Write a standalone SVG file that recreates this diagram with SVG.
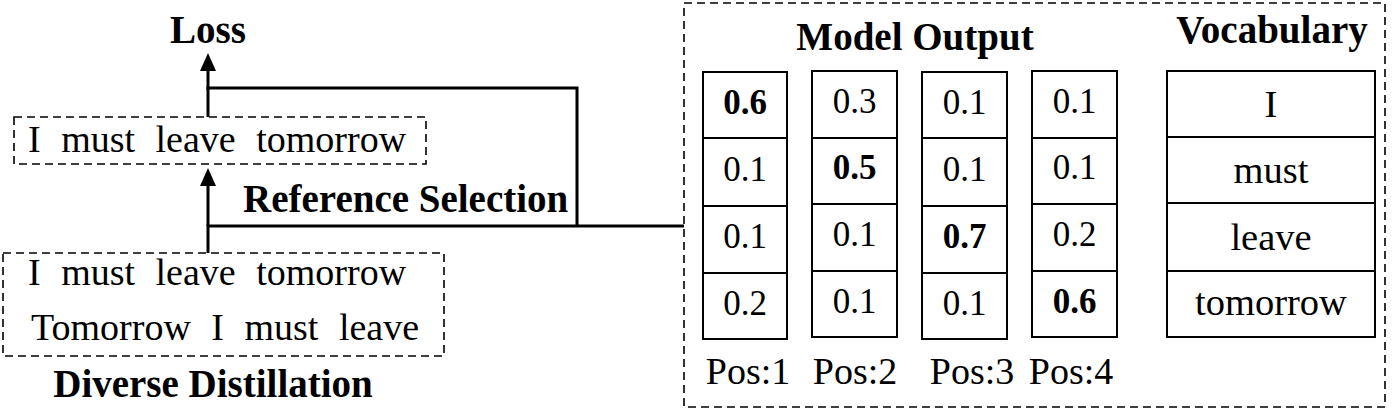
<svg xmlns="http://www.w3.org/2000/svg" width="1395" height="412" viewBox="0 0 1395 412">
<defs>
<style>
text{font-family:"Liberation Serif","Times New Roman",serif;fill:#000}
.b{font-weight:bold;font-size:39px}
.r{font-size:38px}
.ws{word-spacing:11px}
.n{font-size:35px;text-anchor:middle}
.nb{font-size:35px;font-weight:bold;text-anchor:middle}
.p{font-size:38px;text-anchor:middle}
.v{font-size:38.5px;text-anchor:middle}
.dash{fill:none;stroke:#000;stroke-width:1.6;stroke-dasharray:8 5}
.cell{fill:#fff;stroke:#000;stroke-width:2}
.con{fill:none;stroke:#000;stroke-width:3}
.head{fill:#000}
</style>
</defs>

<g id="connectors">
<path class="con" d="M208,253 V226 H684"/>
<path class="con" d="M208,117 V88 H577 V226"/>
<path class="con" d="M208,90 V60"/>
<polygon class="head" points="208,53 200,71 216,71"/>
<path class="con" d="M208,226 V175"/>
<polygon class="head" points="208,168 200,186 216,186"/>
</g>

<g id="loss">
<text class="b" x="208" y="43" text-anchor="middle">Loss</text>
</g>

<g id="selected">
<rect class="dash" x="14" y="117" width="412" height="47"/>
<text class="r ws" x="28" y="152">I must leave tomorrow</text>
</g>

<g id="reference-selection">
<text class="b" x="243" y="212">Reference Selection</text>
</g>

<g id="diverse-distillation">
<rect class="dash" x="3" y="253" width="441" height="103"/>
<text class="r ws" x="28" y="285">I must leave tomorrow</text>
<text class="r ws" x="31" y="340">Tomorrow I must leave</text>
<text class="b" x="213" y="397" text-anchor="middle">Diverse Distillation</text>
</g>

<g id="model-panel">
<rect class="dash" x="684" y="3" width="701" height="404"/>
<text class="b" x="915" y="50" text-anchor="middle">Model Output</text>
<text class="b" x="1272" y="43" text-anchor="middle">Vocabulary</text>
</g>

<g id="pos1">
<rect class="cell" x="703" y="72" width="84" height="267"/>
<path class="cell" d="M703,138 H787 M703,206 H787 M703,273 H787"/>
<text class="nb" x="745" y="114">0.6</text>
<text class="n" x="745" y="181">0.1</text>
<text class="n" x="745" y="248">0.1</text>
<text class="n" x="745" y="315">0.2</text>
<text class="p" x="748" y="384">Pos:1</text>
</g>

<g id="pos2">
<rect class="cell" x="812" y="71" width="85" height="266"/>
<path class="cell" d="M812,138 H897 M812,204 H897 M812,271 H897"/>
<text class="n" x="854.5" y="113">0.3</text>
<text class="nb" x="854.5" y="179">0.5</text>
<text class="n" x="854.5" y="246">0.1</text>
<text class="n" x="854.5" y="313">0.1</text>
<text class="p" x="855" y="384">Pos:2</text>
</g>

<g id="pos3">
<rect class="cell" x="922" y="72" width="85" height="267"/>
<path class="cell" d="M922,138 H1007 M922,206 H1007 M922,273 H1007"/>
<text class="n" x="964.5" y="114">0.1</text>
<text class="n" x="964.5" y="181">0.1</text>
<text class="nb" x="964.5" y="248">0.7</text>
<text class="n" x="964.5" y="315">0.1</text>
<text class="p" x="972" y="384">Pos:3</text>
</g>

<g id="pos4">
<rect class="cell" x="1032" y="71" width="85" height="266"/>
<path class="cell" d="M1032,138 H1117 M1032,204 H1117 M1032,271 H1117"/>
<text class="n" x="1074.5" y="113">0.1</text>
<text class="n" x="1074.5" y="179">0.1</text>
<text class="n" x="1074.5" y="246">0.2</text>
<text class="nb" x="1074.5" y="313">0.6</text>
<text class="p" x="1071" y="384">Pos:4</text>
</g>

<g id="vocabulary">
<rect class="cell" x="1167" y="71" width="208" height="266"/>
<path class="cell" d="M1167,137 H1375 M1167,203 H1375 M1167,271 H1375"/>
<text class="v" x="1271" y="117">I</text>
<text class="v" x="1271" y="183">must</text>
<text class="v" x="1271" y="250">leave</text>
<text class="v" x="1271" y="315">tomorrow</text>
</g>
</svg>
